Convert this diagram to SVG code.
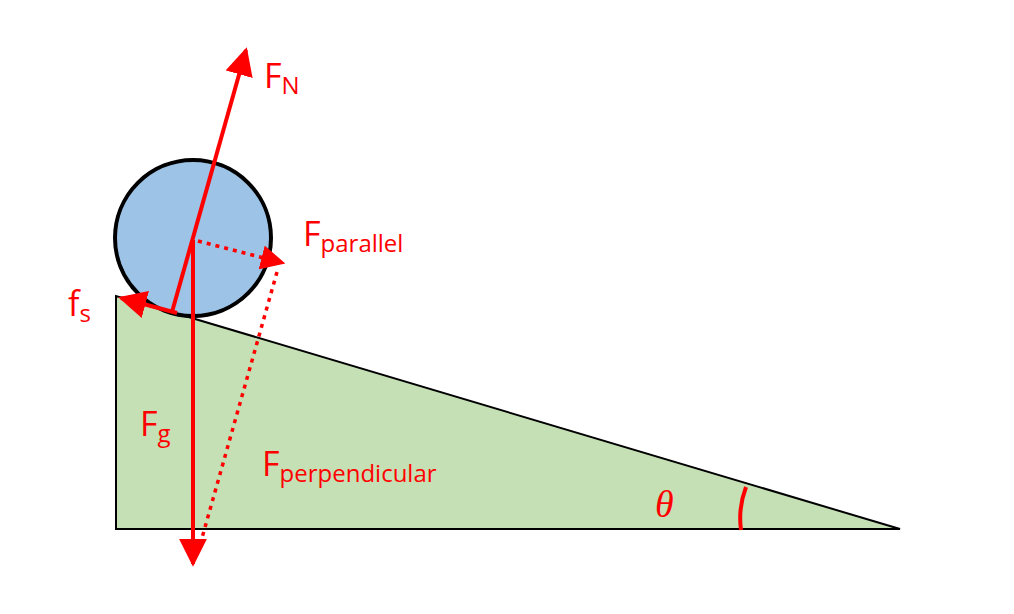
<svg xmlns="http://www.w3.org/2000/svg" width="1014" height="614" viewBox="0 0 1014 614">
<style>
.f{stroke:#ff0000;stroke-width:4;fill:none}
.d{stroke:#ff0000;stroke-width:3.5;fill:none;stroke-dasharray:4 5}
.t{font-family:"Open Sans","Liberation Sans",sans-serif;fill:#ff0000;font-size:34px}
.s{font-size:24px}
</style>
<defs><marker id="a" viewBox="0 0 10 10" refX="9" refY="5" markerWidth="6" markerHeight="6" markerUnits="userSpaceOnUse" orient="auto"><path d="M0,0L10,5L0,10z" fill="#ff0000"/></marker>
<marker id="b" viewBox="0 0 10 10" refX="9" refY="5" markerWidth="7" markerHeight="7" orient="auto" markerUnits="strokeWidth"><path d="M0,0L10,5L0,10z" fill="#ff0000"/></marker></defs>
<g id="ramp"><polygon points="116,296 116,529 900,529 175,313" fill="#c5e0b4" stroke="#000" stroke-width="2"/></g>
<g id="ball"><circle cx="193" cy="238" r="78" fill="#9dc3e6" stroke="#000" stroke-width="4"/></g>
<g id="connectors">
<line class="f" x1="172" y1="312" x2="246" y2="50" marker-end="url(#b)"/>
<line class="f" x1="193" y1="240" x2="193" y2="564" marker-end="url(#b)"/>
<line class="d" x1="198" y1="241" x2="283" y2="263" marker-end="url(#b)"/>
<line class="d" x1="277" y1="272" x2="200" y2="545"/>
<line class="f" x1="177" y1="313" x2="121" y2="298" marker-end="url(#b)"/>
<path class="f" d="M746,487 Q738,508 741,530" stroke-width="3.5"/>
</g>
<g id="labels">
<text class="t" x="264" y="88">F<tspan class="s" dy="6">N</tspan></text>
<text class="t" x="303" y="246">F<tspan class="s" dy="6">parallel</tspan></text>
<text class="t" x="68" y="316">f<tspan class="s" dy="6">s</tspan></text>
<text class="t" x="140" y="436">F<tspan class="s" dy="6">g</tspan></text>
<text class="t" x="262" y="476">F<tspan class="s" dy="6">perpendicular</tspan></text>
<text x="655" y="517" font-family="Liberation Serif,serif" font-style="italic" font-size="38" fill="#ff0000">θ</text>
</g>
</svg>
